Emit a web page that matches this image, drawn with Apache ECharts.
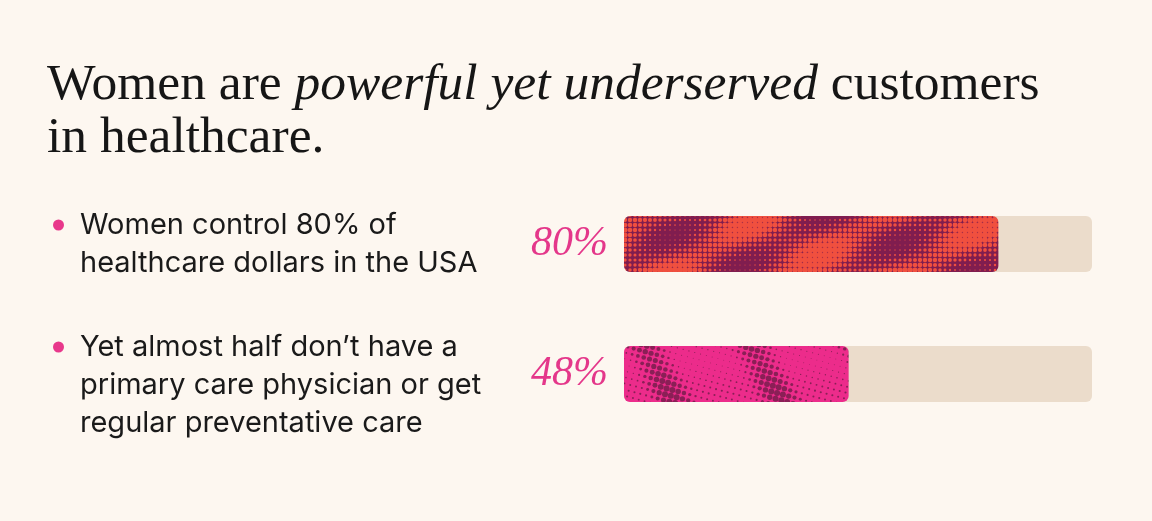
<!DOCTYPE html>
<html>
<head>
<meta charset="utf-8">
<script src="https://cdn.jsdelivr.net/npm/echarts@6/dist/echarts.min.js"></script>
<style>
  html, body { margin: 0; padding: 0; background: #fdf7f0; }
  #chart { width: 1152px; height: 521px; }
</style>
</head>
<body>
<div id="chart"></div>
<script>
const categories = [
  'Women control 80% of\nhealthcare dollars in the USA',
  'Yet almost half don\u2019t have a\nprimary care physician or get\nregular preventative care'
];
const shares = [80, 48];
const axisMax = 100;

// halftone fill, drawn in page coordinates so the tile never seams
function halftone(base, dot, pitch, angle, rMax, field) {
  const c = document.createElement('canvas');
  c.width = 1152; c.height = 521;
  const g = c.getContext('2d');
  g.fillStyle = base;
  g.fillRect(0, 0, c.width, c.height);
  g.fillStyle = dot;
  const ca = Math.cos(angle), sa = Math.sin(angle);
  const n = Math.ceil(1300 / pitch);
  for (let u = -n; u <= n; u++) {
    for (let v = -n; v <= n; v++) {
      const x = u * pitch * ca - v * pitch * sa;
      const y = u * pitch * sa + v * pitch * ca;
      if (x < -pitch || y < -pitch || x > c.width + pitch || y > c.height + pitch) continue;
      const t = Math.max(0, Math.min(1, field(x, y)));
      const r = rMax * t;
      if (r > 0.35) { g.beginPath(); g.arc(x, y, r, 0, Math.PI * 2); g.fill(); }
    }
  }
  return c;
}

const patterns = [
  halftone('#801d4f', '#f0503f', 5, 0, 3.1, (x, y) =>
    0.62 + 0.28 * Math.sin(x / 19 + y / 12) + 0.18 * Math.sin(x / 33 - y / 15)),
  halftone('#ec2c8b', '#8a1f56', 6, 0.26, 3.0, (x, y) =>
    0.25 + 0.7 * Math.pow(Math.max(0, Math.sin((x - 0.55 * y) / 17)), 1.5) + 0.1 * Math.sin(y / 10))
];

const labelRich = {
  dot: { width: 11, height: 11, borderRadius: 6, backgroundColor: '#e8388b', lineHeight: 38 },
  gap: { width: 16, lineHeight: 38 },
  ind: { width: 27, lineHeight: 38 },
  t: { fontFamily: 'Inter', fontSize: 29, color: '#1a1a1a', lineHeight: 38 }
};

const chart = echarts.init(document.getElementById('chart'));

chart.setOption({
  backgroundColor: '#fdf7f0',
  title: {
    left: 42,
    top: 54,
    text: '{n|Women are }{i|powerful yet underserved}{n| customers}\n{n|in healthcare.}',
    textStyle: {
      fontWeight: 'normal',
      rich: {
        n: { fontFamily: 'Liberation Serif', fontWeight: 'normal', fontSize: 51.5, color: '#161616', lineHeight: 53 },
        i: { fontFamily: 'Liberation Serif', fontWeight: 'normal', fontStyle: 'italic', fontSize: 51.5, color: '#161616', lineHeight: 53 }
      }
    }
  },
  grid: {
    left: 624,
    right: 60,
    top: 179,
    height: 260,
    outerBoundsMode: 'none'
  },
  xAxis: {
    type: 'value',
    min: 0,
    max: axisMax,
    show: false
  },
  yAxis: {
    type: 'category',
    inverse: true,
    data: categories.map((c, i) => i === 1
      ? { value: c, textStyle: { align: 'left', padding: [22, 0, 0, 0], rich: labelRich } }
      : c),
    axisLine: { show: false },
    axisTick: { show: false },
    axisLabel: {
      align: 'left',
      margin: 571,
      formatter: function (v) {
        return v.split('\n').map((s, i) =>
          (i === 0 ? '{dot| }{gap| }' : '{ind| }') + '{t|' + s + '}').join('\n');
      },
      rich: labelRich
    }
  },
  series: [{
    type: 'bar',
    barWidth: 56,
    showBackground: true,
    backgroundStyle: { color: '#ebdccb', borderRadius: 6 },
    data: shares.map((v, i) => ({
      value: v,
      itemStyle: { color: { image: patterns[i], repeat: 'repeat' }, borderRadius: 6 }
    })),
    label: {
      show: true,
      position: 'left',
      distance: 16,
      formatter: '{c}%',
      fontFamily: 'Liberation Serif',
      fontStyle: 'italic',
      fontSize: 42,
      color: '#e4378a'
    }
  }]
});
</script>
</body>
</html>
